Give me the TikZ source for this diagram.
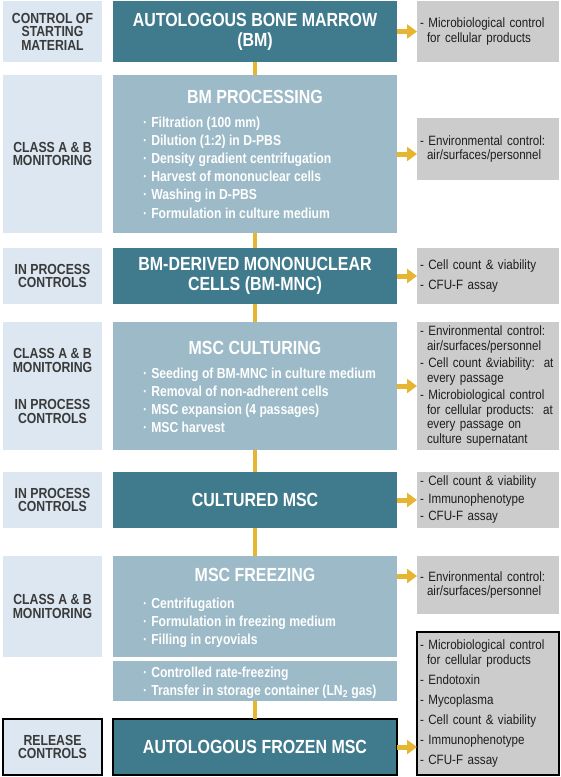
\documentclass[tikz,border=0pt]{standalone}
\usepackage{fontspec}
\setmainfont{Liberation Sans}[FakeStretch=0.84]
\newfontfamily\rfont{Liberation Sans}[FakeStretch=0.86]
\usetikzlibrary{arrows.meta}
\definecolor{dteal}{HTML}{3F7B8D}
\definecolor{lteal}{HTML}{9CBAC7}
\definecolor{lblue}{HTML}{DCE7F1}
\definecolor{lgray}{HTML}{CCCCCC}
\definecolor{gold}{HTML}{E6B632}
\definecolor{ltext}{HTML}{3A3A3A}
\definecolor{rtext}{HTML}{1E1E1E}
\begin{document}
\begin{tikzpicture}[x=1pt,y=-1pt,
  sz/.style 2 args={minimum width=#1pt, minimum height=#2pt},
  box/.style={anchor=north west, inner sep=0pt, outer sep=0pt},
  leftbox/.style={box, fill=lblue, text=ltext, font=\fontsize{14.6}{13.6}\selectfont\bfseries, align=center},
  darkbox/.style={box, fill=dteal, text=white, font=\fontsize{19}{20}\selectfont\bfseries, align=center},
  lightbox/.style={box, fill=lteal},
  rightbox/.style={box, fill=lgray, text=rtext, font=\rfont\fontsize{13.5}{14.5}\selectfont, align=left, text width=136pt, inner xsep=3pt},
  release/.style={draw=black, line width=1.5pt},
  titl/.style={text=white, font=\fontsize{19}{20}\selectfont\bfseries, anchor=base, inner sep=0pt},
  bul/.style={text=white, font=\fontsize{14.5}{16}\selectfont\bfseries, anchor=base west, inner sep=0pt},
  arr/.style={draw=gold, line width=5pt, -{Triangle[length=10pt,width=14pt]}},
  conn/.style={draw=gold, line width=4pt}]
\useasboundingbox (0,0) rectangle (560,777);

% left column
\node[leftbox, sz={99}{61}] (l1) at (3,1) {CONTROL OF\\STARTING\\MATERIAL};
\node[leftbox, sz={99}{158}] (l2) at (3,75) {CLASS A \& B\\MONITORING};
\node[leftbox, sz={99}{56}] (l3) at (3,248) {IN PROCESS\\CONTROLS};
\node[leftbox, sz={99}{128}] (l4) at (3,322) {CLASS A \& B\\MONITORING\\[23.4pt]IN PROCESS\\CONTROLS};
\node[leftbox, sz={99}{56}] (l5) at (3,472) {IN PROCESS\\CONTROLS};
\node[leftbox, sz={99}{101}] (l6) at (3,556) {CLASS A \& B\\MONITORING};
\node[leftbox, release, sz={99}{56}] (l8) at (3,719) {RELEASE\\CONTROLS};

% center column
\node[darkbox, sz={284}{61}] (c1) at (113,1) {AUTOLOGOUS BONE MARROW\\(BM)};
\node[lightbox, sz={284}{158}] (c2) at (113,75) {};
\node[darkbox, sz={284}{56}] (c3) at (113,248) {BM-DERIVED MONONUCLEAR\\CELLS (BM-MNC)};
\node[lightbox, sz={284}{128}] (c4) at (113,322) {};
\node[darkbox, sz={284}{56}] (c5) at (113,472) {CULTURED MSC};
\node[lightbox, sz={284}{101}] (c6) at (113,556) {};
\node[lightbox, sz={284}{40}] (c7) at (113,661) {};
\node[darkbox, release, sz={284}{56}] (c8) at (113,719) {AUTOLOGOUS FROZEN MSC};

% texts in light boxes
\node[titl] (t2) at (255,103) {BM PROCESSING};
\foreach \t [count=\i] in {Filtration (100 mm), Dilution (1:2) in D-PBS, Density gradient centrifugation, Harvest of mononuclear cells, Washing in D-PBS, Formulation in culture medium}
  \node[bul] (b2-\i) at (143,{127+18.2*(\i-1)}) {·\hspace{4pt}\t};
\node[titl] (t4) at (255,354) {MSC CULTURING};
\foreach \t [count=\i] in {Seeding of BM-MNC in culture medium, Removal of non-adherent cells, MSC expansion (4 passages), MSC harvest}
  \node[bul] (b4-\i) at (143,{378+18.3*(\i-1)}) {·\hspace{4pt}\t};
\node[titl] (t6) at (255,581) {MSC FREEZING};
\foreach \t [count=\i] in {Centrifugation, Formulation in freezing medium, Filling in cryovials}
  \node[bul] (b6-\i) at (143,{608+18.2*(\i-1)}) {·\hspace{4pt}\t};
\foreach \t [count=\i] in {Controlled rate-freezing, {Transfer in storage container (LN\textsubscript{2} gas)}}
  \node[bul] (b7-\i) at (143,{677+18.2*(\i-1)}) {·\hspace{4pt}\t};

% right column
\node[rightbox, sz={142}{61}] (r1) at (417,1) {- Microbiological control\\\hspace*{7pt}for cellular products};
\node[rightbox, sz={142}{62}] (r2) at (417,118) {- Environmental control:\\\hspace*{7pt}air/surfaces/personnel};
\node[rightbox, sz={142}{56}] (r3) at (417,248) {- Cell count \& viability\\[5pt]- CFU-F assay};
\node[rightbox, sz={142}{128}] (r4) at (417,322) {- Environmental control:\\\hspace*{7pt}air/surfaces/personnel\\[3pt]- Cell count \&viability:\ \ at\\\hspace*{7pt}every passage\\[3pt]- Microbiological control\\\hspace*{7pt}for cellular products:\ \ at\\\hspace*{7pt}every passage on\\\hspace*{7pt}culture supernatant};
\node[rightbox, sz={142}{56}] (r5) at (417,472) {- Cell count \& viability\\[3pt]- Immunophenotype\\[3pt]- CFU-F assay};
\node[rightbox, sz={142}{58}] (r6) at (417,556) {- Environmental control:\\\hspace*{7pt}air/surfaces/personnel};
\node[rightbox, release, sz={142}{143}] (r8) at (417,632) {- Microbiological control\\\hspace*{7pt}for cellular products\\[5.5pt]- Endotoxin\\[5.5pt]- Mycoplasma\\[5.5pt]- Cell count \& viability\\[5.5pt]- Immunophenotype\\[5.5pt]- CFU-F assay};

% vertical connectors
\draw[conn] (c1.south) -- (c2.north);
\draw[conn] (c2.south) -- (c3.north);
\draw[conn] (c3.south) -- (c4.north);
\draw[conn] (c4.south) -- (c5.north);
\draw[conn] (c5.south) -- (c6.north);
\draw[conn] (c7.south) -- (c8.north);

% arrows to controls
\coordinate (a6) at (397,576);
\draw[arr] (c1.east) -- (c1.east -| r1.west);
\draw[arr] (c2.east) -- (c2.east -| r2.west);
\draw[arr] (c3.east) -- (c3.east -| r3.west);
\draw[arr] (c4.east) -- (c4.east -| r4.west);
\draw[arr] (c5.east) -- (c5.east -| r5.west);
\draw[arr] (a6) -- (a6 -| r6.west);
\draw[arr] (c8.east) -- (c8.east -| r8.west);
\end{tikzpicture}
\end{document}
